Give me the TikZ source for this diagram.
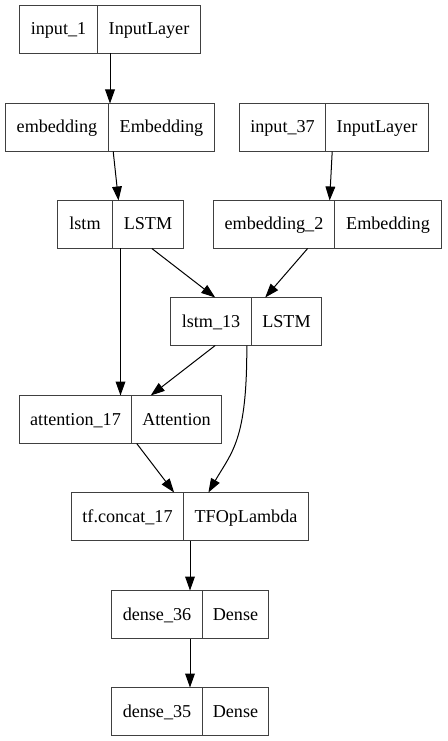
\documentclass[tikz,border=0pt]{standalone}
\usepackage{fontspec}
\setmainfont{Liberation Serif}
\usetikzlibrary{arrows.meta}
\tikzset{
  rec/.style={draw=black!75, line width=0.75pt, inner sep=0pt, outer sep=0pt},
  divline/.style={draw=black!75, line width=0.75pt},
  lbl/.style={anchor=base, inner sep=0pt, font=\fontsize{13.6}{16}\selectfont},
  edge/.style={draw=black, line width=0.75pt, -{Triangle[length=10.5pt,width=7.3pt]}}
}
\newcommand{\recnode}[8]{%
  \node[rec, minimum width={(#4-#2)*0.75pt}, minimum height={(#5-#3)*0.75pt}] (#1) at ({(#2+#4)/2},{(#3+#5)/2}) {};
  \draw[divline] (#6,#3) -- (#6,#5);
  \node[lbl] (#1-l) at ({(#2+#6)/2},{(#3+#5)/2+5.5}) {#7};
  \node[lbl] (#1-r) at ({(#6+#4)/2},{(#3+#5)/2+5.5}) {#8};
}
\begin{document}
\begin{tikzpicture}[x=0.75pt,y=-0.75pt]
\useasboundingbox (0,0) rectangle (447,741);
\recnode{in1}{19.5}{5.5}{200.5}{53.5}{97.5}{input\_1}{InputLayer}
\recnode{emb}{5.5}{103.5}{214.5}{151.5}{108.5}{embedding}{Embedding}
\recnode{in37}{239.5}{103.5}{428.5}{151.5}{325.5}{input\_37}{InputLayer}
\recnode{lstm}{57.5}{200.5}{183.5}{248.5}{112.5}{lstm}{LSTM}
\recnode{emb2}{213.5}{200.5}{441.5}{248.5}{334.5}{embedding\_2}{Embedding}
\recnode{lstmb}{170.5}{297.5}{321.5}{345.5}{251.5}{lstm\_13}{LSTM}
\recnode{att}{19.5}{395.5}{221.5}{443.5}{131.5}{attention\_17}{Attention}
\recnode{cat}{71.5}{492.5}{308.5}{540.5}{183.5}{tf.concat\_17}{TFOpLambda}
\recnode{dA}{111.5}{590.5}{268.5}{638.5}{202.5}{dense\_36}{Dense}
\recnode{dB}{111.5}{687.5}{268.5}{735.5}{202.5}{dense\_35}{Dense}

\draw[edge] (in1.south) -- (emb.north);
\draw[edge] ([xshift=2.4pt]emb.south) -- ([xshift=-1.5pt]lstm.north);
\draw[edge] ([xshift=-1.35pt]in37.south) -- ([xshift=1.6pt]emb2.north);
\draw[edge] ([xshift=23.5pt]lstm.south) -- ([xshift=-23.1pt]lstmb.north);
\draw[edge] ([xshift=-14.9pt]emb2.south) -- ([xshift=14.4pt]lstmb.north);
\draw[edge] (lstm.south) -- (att.north);
\draw[edge] ([xshift=-23.1pt]lstmb.south) -- ([xshift=22.65pt]att.north);
\draw[edge] ([xshift=0.6pt]lstmb.south) .. controls +(0.3,95) and +(23.7,-41) .. ([xshift=13.8pt]cat.north);
\draw[edge] ([xshift=12.15pt]att.south) -- ([xshift=-11.9pt]cat.north);
\draw[edge] (cat.south) -- (dA.north);
\draw[edge] (dA.south) -- (dB.north);
\end{tikzpicture}
\end{document}
